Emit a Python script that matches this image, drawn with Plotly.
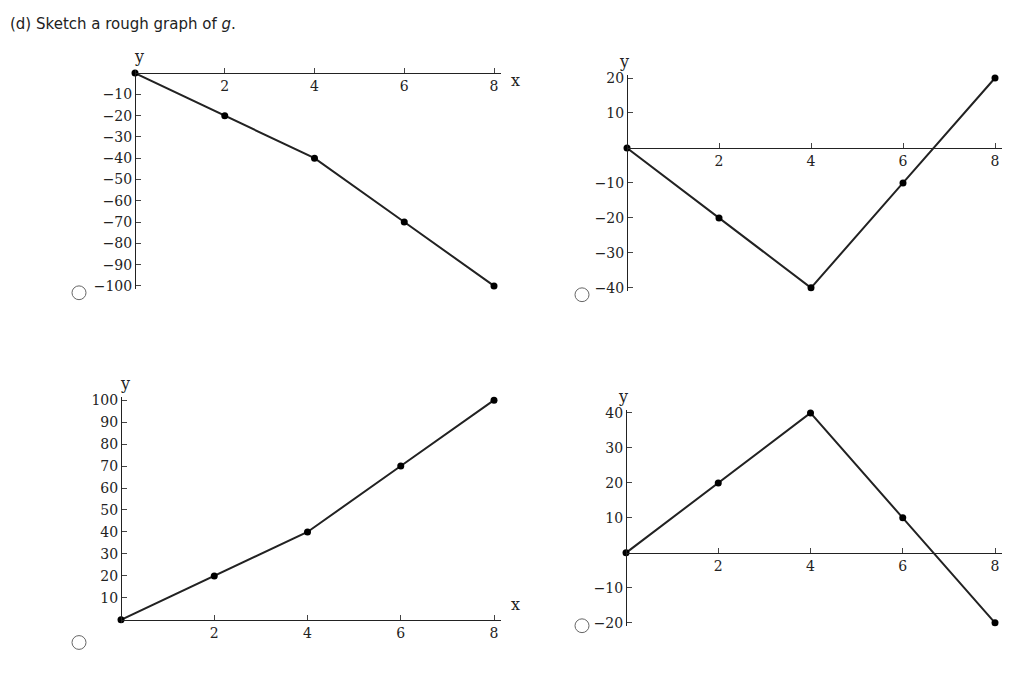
import plotly.graph_objects as go

x_vals = [0, 2, 4, 6, 8]
g_a = [0, -20, -40, -70, -100]
g_b = [0, -20, -40, -10, 20]
g_c = [0, 20, 40, 70, 100]
g_d = [0, 20, 40, 10, -20]

yticks_a = [-10, -20, -30, -40, -50, -60, -70, -80, -90, -100]
yticks_b = [20, 10, -10, -20, -30, -40]
yticks_c = [10, 20, 30, 40, 50, 60, 70, 80, 90, 100]
yticks_d = [40, 30, 20, 10, -10, -20]
xticks = [2, 4, 6, 8]

W, H = 1004, 672
OX, OY = 9, 12  # page offset of the plot div
# panel: data, yticks, px of x=0, px of x=8, y range (lo, hi), px of lo, px of hi
panels = [
    (g_a, yticks_a, 136, 495, (-100, 0), 289, 73),
    (g_b, yticks_b, 628, 996, (-40, 20), 291, 78),
    (g_c, yticks_c, 122, 495, (0, 100), 628, 405),
    (g_d, yticks_d, 627, 996, (-20, 40), 631, 418),
]

fig = go.Figure()
layout = {}
annotations = []
serif = dict(family="DejaVu Serif", size=14, color="#222")


def px_x(p):
    return (p - OX) / W


def px_y(p):
    return 1 - (p - OY) / H


for i, (ys, yt, x0p, x8p, (ylo, yhi), ylop, yhip) in enumerate(panels, start=1):
    sx = (x8p - x0p) / 8
    sy = (ylop - yhip) / (yhi - ylo)
    xmax = 8.15
    ypad = 3 / sy
    xd = [px_x(x0p), px_x(x0p + xmax * sx)]
    ylo_r, yhi_r = ylo - ypad, yhi + ypad
    yd = [px_y(ylop + ypad * sy), px_y(yhip - ypad * sy)]
    zero_frac = yd[0] + (0 - ylo_r) / (yhi_r - ylo_r) * (yd[1] - yd[0])
    xn, yn = ("x", "y") if i == 1 else (f"x{i}", f"y{i}")
    fig.add_trace(go.Scatter(x=x_vals, y=ys, xaxis=xn, yaxis=yn, mode="lines+markers",
                             line=dict(color="#222", width=2),
                             marker=dict(color="black", size=7), cliponaxis=False,
                             showlegend=False))
    k = "" if i == 1 else str(i)
    layout[f"xaxis{k}"] = dict(domain=xd, range=[0, xmax], anchor="free", position=zero_frac,
                               tickvals=xticks, ticks="inside", ticklen=5, showgrid=False,
                               zeroline=False, showline=True, linecolor="#222", tickfont=serif)
    layout[f"yaxis{k}"] = dict(domain=yd, range=[ylo_r, yhi_r], anchor="free", position=xd[0],
                               tickvals=yt, ticks="inside", ticklen=5, showgrid=False,
                               zeroline=False, showline=True, linecolor="#222", tickfont=serif)
    annotations.append(dict(text="y", x=xd[0] - 3 / W, y=yd[1] + 2 / H, xref="paper", yref="paper",
                            yanchor="bottom", showarrow=False,
                            font=dict(family="DejaVu Serif", size=16, color="#222")))
    annotations.append(dict(text="x", x=xd[1] + 8 / W, y=zero_frac + 4 / H, xref="paper", yref="paper",
                            xanchor="left", showarrow=False,
                            font=dict(family="DejaVu Serif", size=16, color="#222")))

for cx, cy in [(80, 296), (583, 298), (80, 651), (583, 634)]:
    fig.add_shape(type="circle", xref="paper", yref="paper",
                  x0=px_x(cx - 7), x1=px_x(cx + 7), y0=px_y(cy + 7), y1=px_y(cy - 7),
                  line=dict(color="#666", width=1))

annotations.append(dict(text="(d) Sketch a rough graph of <i>g</i>.", x=0, y=1,
                        xref="paper", yref="paper", xanchor="left", yanchor="top",
                        showarrow=False, font=dict(family="DejaVu Sans", size=15, color="#222")))

fig.update_layout(width=W, height=H, margin=dict(l=0, r=0, t=0, b=0),
                  plot_bgcolor="white", paper_bgcolor="white", annotations=annotations, **layout)
fig.write_html("out.html")
